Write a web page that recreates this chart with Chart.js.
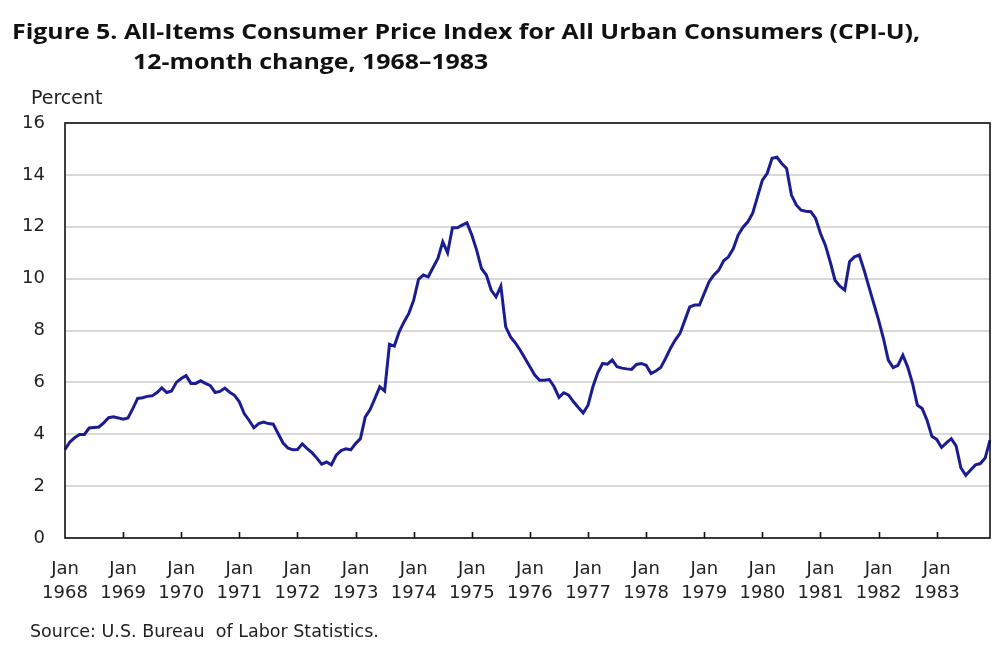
<!DOCTYPE html>
<html>
<head>
<meta charset="utf-8">
<script src="https://cdn.jsdelivr.net/npm/chart.js@4"></script>
<style>
  html, body { margin: 0; padding: 0; background: #fff; }
  #wrap { position: relative; width: 1000px; height: 650px; overflow: hidden; }
  #wrap canvas { position: absolute; left: 0; top: 0; }
  .txt { position: absolute; white-space: pre; color: #111; }
  .title { font-family: "Open Sans", sans-serif; font-weight: 700; font-size: 22px; line-height: 22px; transform-origin: 0 0; }
  #ylab { left: 31px; top: 88px; font-family: "DejaVu Sans", sans-serif; font-size: 19px; line-height: 19px; color: #222; }
  #source { left: 30px; top: 623px; font-family: "DejaVu Sans", sans-serif; font-size: 17.5px; line-height: 17px; color: #222; }
</style>
</head>
<body>
<div id="wrap">
  <canvas id="cpiChart"></canvas>
  <div id="t1" class="txt title" style="left:12px;top:19px">Figure 5. All-Items Consumer Price Index for All Urban Consumers (CPI-U),</div>
  <div id="t2" class="txt title" style="left:133px;top:49px">12-month change, 1968–1983</div>
  <div id="ylab" class="txt">Percent</div>
  <div id="source" class="txt">Source: U.S. Bureau  of Labor Statistics.</div>
</div>
<script>
// 12-month percent change, Jan..Dec of each year
const cpi1968 = [3.41, 3.70, 3.87, 3.99, 3.99, 4.24, 4.26, 4.28, 4.44, 4.64, 4.67, 4.63];
const cpi1969 = [4.58, 4.63, 4.99, 5.38, 5.41, 5.46, 5.48, 5.61, 5.79, 5.61, 5.67, 6.00];
const cpi1970 = [6.15, 6.26, 5.96, 5.96, 6.06, 5.96, 5.87, 5.61, 5.65, 5.78, 5.62, 5.50];
const cpi1971 = [5.25, 4.80, 4.54, 4.25, 4.41, 4.47, 4.41, 4.39, 4.03, 3.67, 3.47, 3.40];
const cpi1972 = [3.41, 3.63, 3.45, 3.29, 3.08, 2.85, 2.93, 2.82, 3.19, 3.37, 3.44, 3.40];
const cpi1973 = [3.64, 3.83, 4.67, 4.95, 5.38, 5.83, 5.67, 7.47, 7.40, 7.95, 8.33, 8.66];
const cpi1974 = [9.17, 9.97, 10.14, 10.07, 10.43, 10.78, 11.42, 11.00, 11.96, 11.96, 12.06, 12.15];
const cpi1975 = [11.68, 11.10, 10.39, 10.14, 9.56, 9.30, 9.71, 8.14, 7.75, 7.52, 7.24, 6.92];
const cpi1976 = [6.60, 6.28, 6.08, 6.08, 6.11, 5.83, 5.42, 5.60, 5.51, 5.25, 5.03, 4.82];
const cpi1977 = [5.12, 5.83, 6.37, 6.73, 6.70, 6.86, 6.60, 6.55, 6.52, 6.50, 6.69, 6.73];
const cpi1978 = [6.66, 6.34, 6.44, 6.57, 6.92, 7.31, 7.63, 7.89, 8.40, 8.91, 8.98, 8.98];
const cpi1979 = [9.43, 9.88, 10.14, 10.33, 10.69, 10.84, 11.16, 11.68, 11.98, 12.19, 12.52, 13.16];
const cpi1980 = [13.80, 14.06, 14.64, 14.68, 14.44, 14.25, 13.22, 12.84, 12.64, 12.60, 12.58, 12.32];
const cpi1981 = [11.74, 11.29, 10.65, 9.94, 9.71, 9.56, 10.65, 10.84, 10.91, 10.33, 9.68, 9.04];
const cpi1982 = [8.40, 7.69, 6.86, 6.57, 6.66, 7.05, 6.60, 5.96, 5.12, 4.99, 4.54, 3.92];
const cpi1983 = [3.80, 3.49, 3.67, 3.83, 3.55, 2.70, 2.42, 2.62, 2.82, 2.87, 3.08, 3.77];

const years = [1968, 1969, 1970, 1971, 1972, 1973, 1974, 1975, 1976, 1977, 1978, 1979, 1980, 1981, 1982, 1983];
const months = ['Jan', 'Feb', 'Mar', 'Apr', 'May', 'Jun', 'Jul', 'Aug', 'Sep', 'Oct', 'Nov', 'Dec'];
const yTicks = [0, 2, 4, 6, 8, 10, 12, 14, 16];

const cpiValues = [].concat(cpi1968, cpi1969, cpi1970, cpi1971, cpi1972, cpi1973, cpi1974, cpi1975,
    cpi1976, cpi1977, cpi1978, cpi1979, cpi1980, cpi1981, cpi1982, cpi1983);
const labels = [];
years.forEach(y => months.forEach(m => labels.push(m + ' ' + y)));

// squeeze the title to the width it has in the figure
function fitTitle() {
    const t1 = document.getElementById('t1');
    const t2 = document.getElementById('t2');
    const s = 908 / t1.offsetWidth;
    t1.style.transform = `scaleX(${s})`;
    t2.style.transform = `scaleX(${s})`;
}

// frame round the plot, and the small Jan ticks pointing up from the bottom axis
const framePlugin = {
    id: 'frame',
    afterDatasetsDraw(chart) {
        const { ctx, chartArea: a, scales: { x } } = chart;
        ctx.save();
        ctx.strokeStyle = '#111';
        ctx.lineWidth = 1.6;
        ctx.strokeRect(a.left, a.top, a.right - a.left, a.bottom - a.top);
        ctx.beginPath();
        for (let i = 12; i < labels.length; i += 12) {
            const px = Math.round(x.getPixelForValue(i)) + 0.5;
            ctx.moveTo(px, a.bottom);
            ctx.lineTo(px, a.bottom - 6);
        }
        ctx.stroke();
        ctx.restore();
    }
};

document.addEventListener('DOMContentLoaded', () => {
    fitTitle();
    const ctx = document.getElementById('cpiChart').getContext('2d');
    new Chart(ctx, {
        type: 'line',
        data: {
            labels: labels,
            datasets: [{
                label: 'CPI-U 12-month change',
                data: cpiValues,
                borderColor: '#1c1c92',
                borderWidth: 3,
                pointRadius: 0,
                tension: 0,
                fill: false
            }]
        },
        options: {
            responsive: true,
            maintainAspectRatio: false,
            animation: false,
            layout: { padding: { left: 0, right: 10, top: 123, bottom: 0 } },
            plugins: {
                legend: { display: false },
                tooltip: { enabled: false }
            },
            scales: {
                x: {
                    type: 'category',
                    offset: false,
                    afterFit: s => { s.height = 112; },
                    grid: { display: false, drawTicks: false },
                    border: { display: false },
                    ticks: {
                        autoSkip: false,
                        maxRotation: 0,
                        padding: 19,
                        color: '#222',
                        font: { family: 'DejaVu Sans', size: 18, lineHeight: 1.35 },
                        callback: (v, i) => i % 12 === 0 ? ['Jan', String(years[i / 12])] : null
                    }
                },
                y: {
                    min: 0,
                    max: 16,
                    afterFit: s => { s.width = 65; },
                    afterBuildTicks: s => { s.ticks = yTicks.map(v => ({ value: v })); },
                    grid: { color: '#d9d9d9', lineWidth: 2, drawTicks: false },
                    border: { display: false },
                    ticks: {
                        padding: 20,
                        color: '#222',
                        font: { family: 'DejaVu Sans', size: 18 }
                    }
                }
            }
        },
        plugins: [framePlugin]
    });
});
</script>
</body>
</html>
